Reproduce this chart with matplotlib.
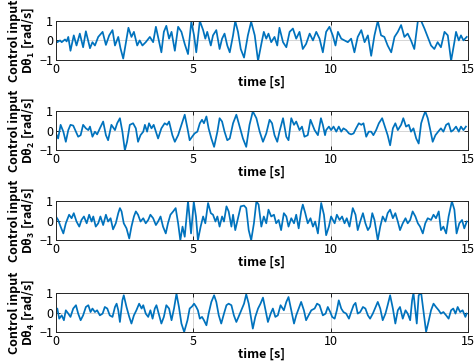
import matplotlib
matplotlib.use('Agg')
import matplotlib.pyplot as plt

# ── data: key points (time [s], value [rad/s]) ──────────────────────────────
T1 = [0.00, 0.05, 0.15, 0.21, 0.33, 0.39, 0.45, 0.53, 0.65, 0.75, 0.87, 0.99, 1.09, 1.24, 1.33, 1.42,
      1.54, 1.70, 1.82, 1.94, 2.06, 2.15, 2.27, 2.35, 2.45, 2.55, 2.64, 2.75, 2.84, 2.96, 3.05, 3.15,
      3.27, 3.42, 3.54, 3.64, 3.76, 3.84, 3.93, 4.02, 4.12, 4.21, 4.33, 4.45, 4.57, 4.69, 4.81, 4.93,
      5.03, 5.11, 5.24, 5.36, 5.44, 5.51, 5.64, 5.72, 5.84, 5.96, 6.05, 6.14, 6.24, 6.33, 6.45, 6.53,
      6.63, 6.73, 6.85, 6.99, 7.11, 7.24, 7.36, 7.48, 7.57, 7.66, 7.74, 7.84, 7.96, 8.06, 8.14, 8.27,
      8.39, 8.51, 8.63, 8.75, 8.87, 8.99, 9.11, 9.24, 9.36, 9.48, 9.60, 9.72, 9.84, 9.96, 10.08, 10.18,
      10.27, 10.39, 10.51, 10.63, 10.75, 10.87, 10.99, 11.12, 11.24, 11.36, 11.48, 11.60, 11.72, 11.84,
      11.96, 12.08, 12.21, 12.33, 12.45, 12.57, 12.69, 12.81, 12.93, 13.05, 13.18, 13.30, 13.42, 13.54,
      13.66, 13.78, 13.90, 14.02, 14.15, 14.27, 14.39, 14.51, 14.57, 14.67, 14.75, 14.84, 14.96]
V1 = [0.00, -0.09, 0.00, -0.09, 0.05, -0.05, 0.18, -0.53, 0.26, -0.26, 0.35, -0.35, 0.47, -0.40, -0.09, -0.26,
      0.18, 0.44, -0.23, 0.26, 0.53, -0.26, 0.18, -0.40, -0.93, -0.09, 0.65, 0.18, 0.44, -0.26, 0.00, -0.26,
      -0.09, 0.18, -0.09, 0.70, -0.09, -0.61, 0.44, 0.75, 0.09, 0.44, -0.53, 0.70, 0.44, -0.18, -0.70, 0.96,
      0.26, -0.61, 1.00, 0.53, 0.09, 0.44, -0.26, 0.26, 0.53, -0.44, 0.09, 0.35, -0.26, -0.61, 0.26, 1.00,
      0.44, -0.44, -0.88, 0.26, 0.96, 0.26, -1.05, -0.18, 0.44, 0.09, 0.35, -0.09, 0.18, -0.26, 0.65, -0.09,
      -0.35, 0.44, 0.61, 0.09, 0.44, -0.44, -0.18, 0.35, 0.00, 0.44, 0.09, -0.61, 0.44, 0.70, 0.26, -0.26,
      0.44, 0.09, 0.00, -0.09, 0.09, -0.61, 0.18, 0.53, -0.09, 0.26, -0.79, 0.26, 1.00, 0.26,
      0.18, -0.26, -0.61, 0.18, 0.44, 0.79, 0.18, 0.35, 0.00, -0.44, 1.00, 1.00, 0.61, 0.18,
      -0.26, -0.44, -0.09, -0.35, 0.44, 0.26, -1.05, -0.09, 0.44, 0.00, 0.26, 0.00, 0.18]

T2 = [0.00, 0.08, 0.17, 0.27, 0.36, 0.45, 0.53, 0.63, 0.73, 0.81, 0.90, 0.99, 1.09, 1.18, 1.24, 1.33,
      1.42, 1.50, 1.60, 1.72, 1.82, 1.90, 2.02, 2.15, 2.23, 2.33, 2.42, 2.51, 2.59, 2.69, 2.81, 2.91,
      2.99, 3.08, 3.18, 3.24, 3.32, 3.39, 3.48, 3.56, 3.64, 3.72, 3.84, 3.96, 4.05, 4.12, 4.24, 4.33,
      4.45, 4.57, 4.69, 4.79, 4.87, 4.96, 5.05, 5.15, 5.24, 5.32, 5.39, 5.48, 5.56, 5.66, 5.76, 5.88,
      5.96, 6.05, 6.14, 6.24, 6.33, 6.45, 6.57, 6.69, 6.81, 6.93, 7.05, 7.17, 7.30, 7.42, 7.54, 7.66,
      7.78, 7.87, 7.96, 8.06, 8.14, 8.27, 8.39, 8.47, 8.57, 8.67, 8.75, 8.87, 8.96, 9.05, 9.17, 9.27,
      9.42, 9.54, 9.65, 9.72, 9.80, 9.84, 9.94, 10.02, 10.11, 10.21, 10.30, 10.39, 10.47, 10.57, 10.67,
      10.75, 10.84, 10.93, 11.03, 11.12, 11.20, 11.30, 11.39, 11.48, 11.56, 11.66, 11.76, 11.88, 11.98,
      12.08, 12.17, 12.27, 12.36, 12.45, 12.57, 12.65, 12.75, 12.85, 12.93, 13.02, 13.12, 13.21, 13.30,
      13.38, 13.45, 13.54, 13.62, 13.72, 13.82, 13.92, 14.02, 14.11, 14.21, 14.30, 14.39, 14.47, 14.57,
      14.67, 14.75, 14.84, 14.93]
V2 = [-0.14, -0.40, 0.30, -0.05, -0.57, 0.03, 0.30, 0.26, -0.05, -0.31, -0.23, 0.30, 0.12, 0.03, 0.21, -0.31,
      -0.05, -0.19, 0.12, 0.47, -0.23, -0.49, 0.30, 0.03, 0.38, 0.64, -0.05, -1.01, -0.57, 0.30, 0.38, 0.12,
      -0.57, -0.23, -0.05, 0.30, -0.05, 0.38, 0.12, 0.30, -0.05, -0.40, 0.12, 0.38, 0.30, 0.47, -0.23, -0.57,
      -0.23, 0.30, 0.82, 0.12, -0.49, -0.31, -0.14, -0.05, 0.38, 0.56, 0.38, 0.73, 0.12, -0.40, -0.83, -0.05,
      0.64, 0.47, -0.05, -0.49, -0.40, 0.38, 0.82, 0.21, -0.40, -0.83, 0.30, 0.99, 0.64, -0.05, -0.57, -0.14,
      0.56, 0.38, -0.23, -0.57, -0.05, 0.64, -0.31, -0.49, 0.64, 0.30, 0.47, 0.03, 0.21, -0.31, -0.23, 0.56,
      0.03, -0.23, 0.64, 0.30, -0.23, 0.03, 0.21, 0.03, 0.21, -0.05, 0.21, -0.05, 0.12, 0.03, -0.14,
      -0.19, -0.14, 0.12, 0.38, 0.30, 0.38, -0.31, -0.05, -0.05, -0.23, 0.03, 0.38, 0.64, 0.21,
      -0.23, -0.75, 0.12, 0.38, 0.03, 0.30, 0.64, 0.21, 0.30, -0.05, 0.12, -0.40, -0.66, 0.38,
      0.73, 0.99, 0.64, 0.12, -0.57, -0.23, -0.05, 0.12, -0.05, 0.30, 0.38, -0.05, 0.03, 0.21,
      -0.05, 0.21, 0.03, 0.21]

T3 = [0.00, 0.08, 0.17, 0.27, 0.36, 0.48, 0.57, 0.65, 0.75, 0.85, 0.93, 1.02, 1.12, 1.21, 1.30, 1.36,
      1.45, 1.54, 1.62, 1.72, 1.82, 1.90, 1.99, 2.08, 2.18, 2.27, 2.33, 2.39, 2.47, 2.57, 2.67, 2.75,
      2.84, 2.91, 2.99, 3.08, 3.18, 3.27, 3.36, 3.44, 3.54, 3.64, 3.72, 3.81, 3.90, 4.00, 4.08, 4.17,
      4.27, 4.36, 4.45, 4.53, 4.61, 4.69, 4.81, 4.92, 5.02, 5.10, 5.17, 5.27, 5.36, 5.44, 5.54, 5.64,
      5.72, 5.81, 5.88, 5.96, 6.05, 6.12, 6.21, 6.29, 6.39, 6.45, 6.53, 6.63, 6.73, 6.85, 6.93, 7.02,
      7.11, 7.21, 7.30, 7.38, 7.48, 7.57, 7.66, 7.74, 7.84, 7.94, 8.02, 8.11, 8.20, 8.30, 8.39, 8.47,
      8.57, 8.67, 8.75, 8.84, 8.93, 8.99, 9.08, 9.17, 9.27, 9.36, 9.44, 9.54, 9.66, 9.76, 9.84, 9.94,
      10.02, 10.15, 10.23, 10.33, 10.42, 10.51, 10.59, 10.69, 10.81, 10.91, 10.99, 11.08, 11.18, 11.27,
      11.36, 11.44, 11.52, 11.60, 11.72, 11.81, 11.90, 12.00, 12.08, 12.17, 12.27, 12.36, 12.45, 12.53,
      12.63, 12.73, 12.81, 12.90, 12.99, 13.09, 13.18, 13.26, 13.36, 13.45, 13.54, 13.66, 13.75, 13.84,
      13.94, 14.02, 14.11, 14.21, 14.30, 14.42, 14.51, 14.59, 14.69, 14.79, 14.87, 14.96]
V3 = [0.21, 0.03, -0.31, -0.66, -0.14, 0.30, 0.12, 0.38, -0.05, -0.31, 0.03, 0.21, -0.14, 0.30, -0.05, 0.21,
      -0.31, -0.14, 0.21, -0.23, 0.30, -0.05, 0.12, -0.45, -0.14, 0.38, 0.64, 0.47, -0.14, -0.40, -0.92, -0.31,
      0.21, 0.47, 0.30, -0.05, 0.12, -0.14, 0.03, 0.30, 0.12, -0.23, -0.05, 0.21, -0.31, -0.66, -0.14, 0.30,
      0.47, 0.64, -0.14, -1.01, -0.31, -0.83, 1.00, -0.66, 0.96, 0.20, -1.01, -0.31, 0.21, -0.14, 0.90, 0.38,
      0.30, -0.05, 0.21, -0.31, 0.21, -0.05, 0.73, 0.47, -0.31, 0.30, -0.49, 0.12, 0.73, 0.77, 0.64, -0.49,
      -1.01, -0.14, 0.99, 0.82, -0.31, 0.21, -0.14, 0.56, 0.21, 0.30, -0.14, 0.03, -0.49, 0.38, 0.21, -0.31,
      0.12, -0.14, 0.30, -0.40, 0.47, 0.82, 0.38, -0.14, 0.12, -0.31, -0.05, -0.66, 0.90, 0.30, -0.75, -0.31,
      0.21, -0.14, 0.30, 0.03, 0.21, -0.14, 0.12, -0.31, 0.64, 0.30, -0.49, -0.05, 0.38, -0.14,
      -0.49, -0.31, 0.38, 0.03, -1.01, -0.31, 0.21, -0.05, 0.38, 0.56, 0.12, 0.38, -0.05, -0.49,
      -0.14, 0.12, -0.14, 0.03, 0.47, 0.21, -0.14, -0.31, -0.66, -0.14, 0.12, 0.03, 0.30, 0.12,
      0.47, -0.49, -0.31, -0.66, 0.21, 0.99, 0.56, -0.66, -0.14, 0.03, -0.40, -0.05]

T4 = [0.00, 0.05, 0.12, 0.21, 0.29, 0.36, 0.45, 0.53, 0.63, 0.73, 0.81, 0.90, 0.99, 1.09, 1.18, 1.26,
      1.33, 1.42, 1.50, 1.60, 1.70, 1.78, 1.87, 1.96, 2.06, 2.15, 2.21, 2.27, 2.33, 2.42, 2.47, 2.57,
      2.67, 2.75, 2.84, 2.93, 3.03, 3.12, 3.18, 3.27, 3.36, 3.44, 3.52, 3.60, 3.66, 3.76, 3.84, 3.93,
      4.02, 4.12, 4.21, 4.30, 4.39, 4.48, 4.57, 4.67, 4.79, 4.87, 4.96, 5.03, 5.11, 5.17, 5.24, 5.32,
      5.39, 5.48, 5.56, 5.66, 5.76, 5.84, 5.93, 6.02, 6.12, 6.21, 6.29, 6.39, 6.48, 6.57, 6.65, 6.75,
      6.85, 6.93, 7.02, 7.09, 7.17, 7.26, 7.36, 7.45, 7.54, 7.62, 7.72, 7.82, 7.90, 7.99, 8.08, 8.18,
      8.30, 8.39, 8.47, 8.57, 8.67, 8.75, 8.84, 8.93, 9.03, 9.11, 9.20, 9.30, 9.42, 9.51, 9.60, 9.72,
      9.82, 9.90, 9.99, 10.06, 10.15, 10.23, 10.30, 10.39, 10.47, 10.57, 10.67, 10.75, 10.84, 10.91,
      10.99, 11.08, 11.18, 11.27, 11.36, 11.44, 11.54, 11.64, 11.72, 11.81, 11.90, 12.00, 12.08, 12.17,
      12.27, 12.36, 12.45, 12.53, 12.63, 12.73, 12.81, 12.90, 12.97, 13.02, 13.09, 13.14, 13.21, 13.30,
      13.38, 13.48, 13.58, 13.66, 13.75, 13.84, 13.94, 14.02, 14.11, 14.21, 14.30, 14.39, 14.47, 14.55,
      14.63, 14.72, 14.81, 14.91, 14.96]
V4 = [0.03, 0.21, -0.31, -0.14, -0.39, 0.12, -0.05, -0.22, 0.21, 0.38, -0.05, -0.39, -0.14, 0.29, 0.38, 0.03,
      0.21, 0.03, 0.12, -0.14, -0.05, 0.29, 0.21, -0.14, -0.22, 0.29, 0.46, 0.12, -0.48, 0.63, 0.89, 0.29,
      -0.22, -0.56, -0.14, 0.12, 0.46, 0.21, 0.38, -0.05, -0.22, 0.12, -0.31, 0.21, 0.38, -0.14, -0.56, -0.22,
      0.38, 0.21, -0.39, 0.21, 0.97, 0.29, -0.56, -0.99, -0.39, 0.21, 0.32, 0.46, 0.29, 0.12, -0.31, -0.22,
      -0.39, -0.65, -0.05, 0.55, 0.89, 0.55, -0.14, -0.56, -0.05, 0.38, 0.46, 0.38, -0.14, -0.48, -0.22, 0.12,
      0.46, 0.94, 0.46, -0.14, -0.82, -0.22, 0.21, 0.46, 0.77, 0.21, -0.48, -0.05, 0.21, -0.22, -0.14, 0.38,
      0.12, 0.55, 0.80, 0.12, -0.56, -0.14, 0.21, 0.55, 0.12, -0.39, -0.14, 0.12, 0.21, 0.46, 0.38, -0.14,
      -0.05, 0.29, 0.03, -0.22, -0.31, 0.12, 0.63, 0.21, 0.03, -0.05, -0.31, 0.03, 0.38, 0.50,
      -0.05, 0.03, 0.29, 0.21, -0.14, -0.31, -0.05, 0.29, 0.55, 0.21, -0.39, -0.05, 0.38, 0.89,
      0.21, -0.56, 0.12, 0.29, -0.31, 0.12, -0.05, -0.39, 0.63, 1.01, 0.12, -0.56, 0.89, 1.01,
      0.12, -0.99, -0.39, 0.12, 0.46, 0.29, 0.12, -0.05, 0.03, -0.14, -0.31, 0.12, 0.21, -0.05,
      0.29, 0.03, 0.12, -0.22, -0.05]

SERIES = [(T1, V1), (T2, V2), (T3, V3), (T4, V4)]
SUBS = ['1', '2', '3', '4']

# ── style ───────────────────────────────────────────────────────────────────
plt.rcParams['font.family'] = ['Noto Sans CJK JP', 'DejaVu Sans']
plt.rcParams['mathtext.fontset'] = 'custom'
plt.rcParams['mathtext.rm'] = 'Noto Sans CJK JP:bold'
LINE_C = '#0072BD'
GRID_C = '#cfcfcf'

fig = plt.figure(figsize=(4.74, 3.61), dpi=100)
LEFT, WIDTH, HEIGHT = 0.118, 0.869, 0.108
BOTTOMS = [0.834, 0.584, 0.335, 0.080]

for (t, v), sub, b in zip(SERIES, SUBS, BOTTOMS):
    ax = fig.add_axes([LEFT, b, WIDTH, HEIGHT])
    ax.plot(t, v, color=LINE_C, linewidth=1.25)
    ax.set_xlim(0, 15)
    ax.set_ylim(-1, 1)
    ax.set_xticks([0, 5, 10, 15])
    ax.set_yticks([-1, 0, 1])
    ax.grid(True, color=GRID_C, linewidth=0.6)
    ax.tick_params(direction='in', length=3, width=0.6, labelsize=9,
                   top=True, right=True, pad=2)
    for s in ax.spines.values():
        s.set_linewidth(0.7)
        s.set_color('#262626')
    ax.set_xlabel('time [s]', fontsize=9, fontweight='bold', labelpad=0)
    ax.set_ylabel('Control input\nDθ$_{\\mathrm{%s}}$ [rad/s]' % sub, fontsize=9,
                  fontweight='bold', labelpad=2, linespacing=1.0)

fig.savefig('out.png', dpi=100)
